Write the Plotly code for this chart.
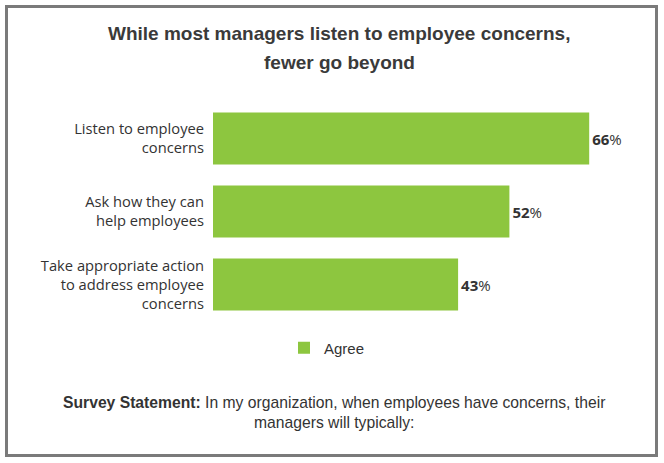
import plotly.graph_objects as go

categories = [
    "Listen to employee<br>concerns",
    "Ask how they can<br>help employees",
    "Take appropriate action<br>to address employee<br>concerns",
]
values = [66, 52, 43]
series_name = "Agree"
title_lines = ["While most managers listen to employee concerns,", "fewer go beyond"]
footer_lines = [
    "<b>Survey Statement:</b> In my organization, when employees have concerns, their",
    "managers will typically:",
]

GREEN = "#8dc63f"
TEXT = "#333333"

fig = go.Figure()
fig.add_trace(go.Bar(
    x=values,
    y=categories,
    orientation="h",
    name=series_name,
    marker=dict(color=GREEN, line=dict(width=0)),
    text=[f"<b>{v}</b>%" for v in values],
    textposition="outside",
    textfont=dict(family="Open Sans", size=15, color=TEXT),
    cliponaxis=False,
    width=0.712,
    showlegend=True,
))

# plot area: x 213..612 px, y 102..321 px
L, R, T, B = 213, 52, 102, 142
W, H = 664, 463
pw, ph = W - L - R, H - T - B

def px_x(p):
    return (p - L) / pw

def px_y(p):
    return (H - B - p) / ph

annotations = []
for line, py in zip(title_lines, [33, 62]):
    annotations.append(dict(
        text=f"<b>{line}</b>", x=px_x(339), y=px_y(py), xref="paper", yref="paper",
        xanchor="center", yanchor="middle", showarrow=False,
        font=dict(family="Liberation Sans, Arial", size=19, color="#3a3a3a"),
    ))
for line, py in zip(footer_lines, [403, 422]):
    annotations.append(dict(
        text=line, x=px_x(334), y=px_y(py), xref="paper", yref="paper",
        xanchor="center", yanchor="middle", showarrow=False,
        font=dict(family="Liberation Sans, Arial", size=15.7, color=TEXT),
    ))

fig.update_layout(
    width=W, height=H,
    margin=dict(l=L, r=R, t=T, b=B, pad=0),
    paper_bgcolor="white",
    plot_bgcolor="white",
    bargap=0.288,
    xaxis=dict(range=[0, 70], visible=False, fixedrange=True),
    yaxis=dict(
        autorange="reversed", showgrid=False, zeroline=False, showline=False,
        ticks="", ticklabelstandoff=8,
        tickfont=dict(family="Open Sans", size=14.7, color=TEXT),
    ),
    legend=dict(
        orientation="h", x=px_x(327), xanchor="center", y=px_y(348), yanchor="middle",
        font=dict(family="Liberation Sans, Arial", size=15, color=TEXT),
        bgcolor="rgba(0,0,0,0)",
    ),
    annotations=annotations,
    shapes=[dict(
        type="rect", xref="paper", yref="paper",
        x0=px_x(6.5), x1=px_x(656.5), y0=px_y(455.5), y1=px_y(6.5),
        line=dict(color="#7a7a7a", width=3), fillcolor="rgba(0,0,0,0)", layer="above",
    )],
    showlegend=True,
)

fig.write_html("out.html")
